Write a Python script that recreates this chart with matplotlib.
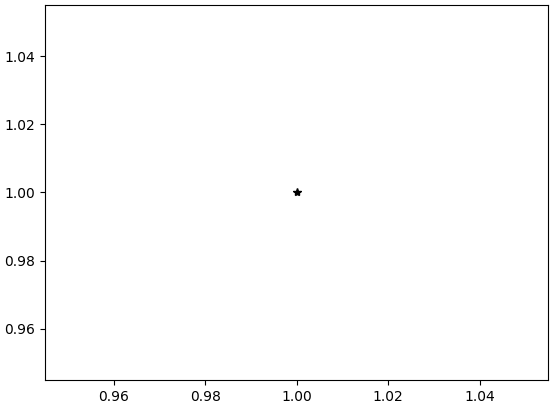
import matplotlib
matplotlib.use("Agg")
import matplotlib.pyplot as plt

xs = [1]
ys = [1]

fig = plt.figure(figsize=(5.56, 4.13), dpi=100)
ax = fig.add_axes([0.081, 0.080, 0.905, 0.908])
ax.plot(xs, ys, '*', color='black')
fig.savefig("out.png", dpi=100)
